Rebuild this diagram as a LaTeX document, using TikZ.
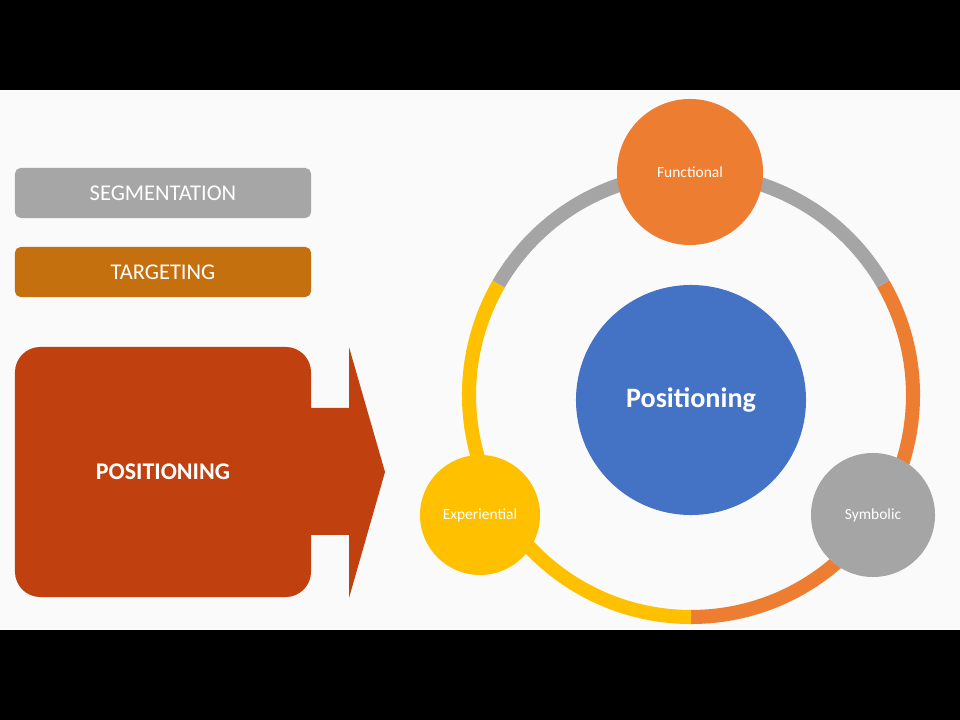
\documentclass[tikz,border=0pt]{standalone}
\usepackage{fontspec}
\setmainfont{Carlito}
\usetikzlibrary{positioning}
\definecolor{segGray}{HTML}{A6A6A6}
\definecolor{tarBrown}{HTML}{C5700E}
\definecolor{posRed}{HTML}{C0400F}
\definecolor{funOrange}{HTML}{ED7D31}
\definecolor{symGray}{HTML}{A5A5A5}
\definecolor{expYellow}{HTML}{FFC000}
\definecolor{posBlue}{HTML}{4472C4}
\tikzset{
  stepbar/.style={rounded corners=4pt, text=white, minimum width=7.4cm, minimum height=1.25cm, font=\fontsize{16}{18}\selectfont},
  bubble/.style={circle, text=white, inner sep=0pt},
  ring/.style={line width=10pt}
}
\begin{document}
\begin{tikzpicture}[x=0.025cm, y=-0.025cm]
\useasboundingbox (0,0) rectangle (960,720);
\fill[black] (0,0) rectangle (960,90);
\fill[black] (0,630) rectangle (960,720);
\fill[white!96!gray] (0,90) rectangle (960,630);

\node[stepbar, fill=segGray] (seg) at (163,193) {SEGMENTATION};
\node[stepbar, fill=tarBrown] (tar) at (163,272) {TARGETING};
\node[fill=posRed, rounded corners=18pt, minimum width=7.4cm, minimum height=6.25cm, text=white, font=\bfseries\fontsize{17}{19}\selectfont] (pos) at (163,472) {POSITIONING};
\fill[posRed] (310,408) -- (349,408) -- (349,347) -- (385,472) -- (349,598) -- (349,535) -- (310,535) -- cycle;

\coordinate (c) at (691,395);
\draw[ring, funOrange] (c) ++(90:222) arc (90:-30:222);
\draw[ring, expYellow] (c) ++(90:222) arc (90:210:222);
\draw[ring, symGray] (c) ++(210:222) arc (210:330:222);

\node[bubble, fill=posBlue, minimum size=5.75cm, font=\bfseries\fontsize{20}{22}\selectfont] (core) at (691,400) {Positioning};
\node[bubble, fill=funOrange, minimum size=3.65cm, font=\fontsize{11}{13}\selectfont] (fun) at (690,172) {Functional};
\node[bubble, fill=symGray, minimum size=3.1cm, font=\fontsize{11}{13}\selectfont] (sym) at (873,515) {Symbolic};
\node[bubble, fill=expYellow, minimum size=3.0cm, font=\fontsize{11}{13}\selectfont] (exp) at (480,515) {Experiential};
\end{tikzpicture}
\end{document}
